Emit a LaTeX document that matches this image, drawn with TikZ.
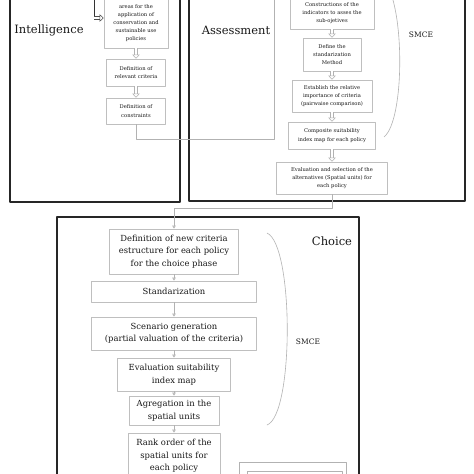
\documentclass[tikz,border=0pt]{standalone}
\usepackage{fontspec}
\setmainfont{DejaVu Serif}
\usetikzlibrary{arrows.meta}

\begin{document}
\begin{tikzpicture}[x=1pt, y=-1pt, line join=round,
	frame/.style={draw=black!85, line width=1.6pt},
	box/.style={draw=gray!50, line width=0.7pt, fill=white, align=center, inner sep=1pt, text=black!90},
	small/.style={box, font=\fontsize{5.2}{8.2}\selectfont},
	big/.style={box, font=\fontsize{8.4}{12.5}\selectfont},
	hollow/.style={draw=gray!60, line width=0.5pt, double=white, double distance=2.4pt, -{Triangle[open, length=4pt, width=7.5pt]}},
	link/.style={draw=gray!60, line width=0.6pt},
	thinarrow/.style={link, -{Triangle[open, length=3pt, width=3.5pt]}},
	title/.style={font=\fontsize{11.5}{14}\selectfont, text=black!90}]
	\useasboundingbox (0,0) rectangle (474,474);
	\clip (0,0) rectangle (474,474);
	\fill[white] (0,0) rectangle (474,474);
	% frames of the three phases
	\draw[frame] (10,-10) rectangle (180,202);
	\draw[frame] (189,-10) rectangle (465,201);
	\draw[frame] (57,217) rectangle (359,490);
	\node[title] (intel) at (49,30) {Intelligence};
	\node[title] (assess) at (236,30) {Assessment};
	\node[title] (choice) at (332,241) {Choice};
	\node[font=\fontsize{7.5}{9}\selectfont, text=black!90] (smceA) at (421,35) {SMCE};
	\node[font=\fontsize{7.5}{9}\selectfont, text=black!90] (smceB) at (308,342) {SMCE};
	\draw[link] (384,-20) .. controls (405,5) and (405,120) .. (384,137);
	\draw[link] (267,233) .. controls (294,245) and (294,415) .. (267,425);
	% intelligence
	\node[small, minimum width=64, minimum height=50] (areas) at (136,23) {areas for the\\application of\\conservation and\\sustainable use\\policies};
	\node[small, minimum width=59, minimum height=27] (relev) at (136,72.5) {Definition of\\relevant criteria};
	\node[small, minimum width=59, minimum height=26] (constr) at (136,111) {Definition of\\constraints};
	% assessment
	\node[small, minimum width=84, minimum height=32] (indic) at (332,13) {Constructions of the\\indicators to asses the\\sub-ojetives};
	\node[small, minimum width=58, minimum height=33] (stdmeth) at (332,54.5) {Define the\\standarization\\Method};
	\node[small, minimum width=80, minimum height=32] (weights) at (332,96) {Establish the relative\\importance of criteria\\(pairwaise comparison)};
	\node[small, minimum width=87, minimum height=27] (compos) at (332,135.5) {Composite suitability\\index map for each policy};
	\node[small, minimum width=111, minimum height=32] (evalsel) at (332,178) {Evaluation and selection of the\\alternatives (Spatial units) for\\each policy};
	% choice
	\node[big, minimum width=129, minimum height=45] (defnew) at (174,251.5) {Definition of new criteria\\estructure for each policy\\for the choice phase};
	\node[big, minimum width=165, minimum height=21] (stdz) at (174,291.5) {Standarization};
	\node[big, minimum width=165, minimum height=33] (scen) at (174,333.5) {Scenario generation\\(partial valuation of the criteria)};
	\node[big, minimum width=113, minimum height=33] (evalmap) at (174,374.5) {Evaluation suitability\\index map};
	\node[big, minimum width=90, minimum height=29] (aggr) at (174,410.5) {Agregation in the\\spatial units};
	\node[big, minimum width=92, minimum height=46] (rank) at (174,456) {Rank order of the\\spatial units for\\each policy};
	\draw[link] (239,462) rectangle (346,490);
	\draw[link] (247,471) rectangle (342,490);
	% connectors
	\foreach \a/\b in {areas/relev, relev/constr, indic/stdmeth, stdmeth/weights, weights/compos, compos/evalsel}
		\draw[hollow] (\a) -- (\b);
	\foreach \a/\b in {defnew/stdz, stdz/scen, scen/evalmap, evalmap/aggr, aggr/rank}
		\draw[thinarrow] (\a) -- (\b);
	\coordinate (feedin) at (94,-10);
	\coordinate (feedbend) at (94,18);
	\draw[black!80, line width=0.7pt] (feedin) -- (feedbend);
	\draw[hollow, draw=black!70] (feedbend) -- (areas.west |- feedbend);
	\coordinate (loopturn) at (274,139);
	\coordinate (looptop) at (274,-10);
	\draw[link] (constr.south) |- (loopturn) -- (looptop);
	\coordinate (choiceturn) at (174,208);
	\draw[thinarrow] (evalsel.south) |- (choiceturn) -- (defnew.north);
\end{tikzpicture}
\end{document}
